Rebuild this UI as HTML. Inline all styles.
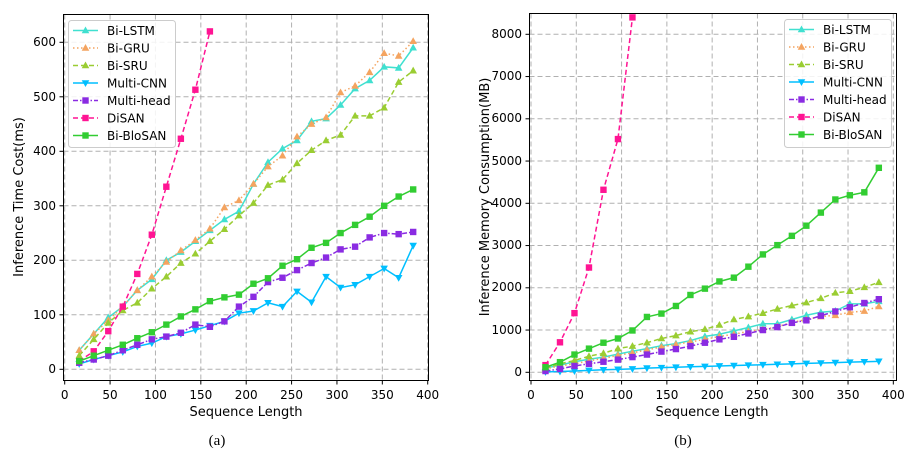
<!DOCTYPE html>
<html><head><meta charset="utf-8"><style>
body{margin:0;background:#fff;width:915px;height:453px;overflow:hidden}
svg{font-family:"DejaVu Sans","Liberation Sans",sans-serif}
</style></head><body>
<svg id="s" width="915" height="453" xmlns="http://www.w3.org/2000/svg">
<g id="grid"></g>
<g id="data"></g>
<rect x="63.5" y="14.5" width="365" height="366" fill="none" stroke="#000" stroke-width="1"/>
<rect x="529.5" y="13.5" width="367" height="367" fill="none" stroke="#000" stroke-width="1"/>
<g font-size="12" fill="#000" text-anchor="end">
<text x="56" y="373">0</text><text x="56" y="319">100</text><text x="56" y="264">200</text><text x="56" y="210">300</text><text x="56" y="155">400</text><text x="56" y="101">500</text><text x="56" y="46">600</text>
<text x="522" y="376">0</text><text x="522" y="334">1000</text><text x="522" y="291">2000</text><text x="522" y="249">3000</text><text x="522" y="207">4000</text><text x="522" y="165">5000</text><text x="522" y="122">6000</text><text x="522" y="80">7000</text><text x="522" y="38">8000</text>
</g>
<g font-size="12" fill="#000" text-anchor="middle">
<text x="64.7" y="399">0</text><text x="110" y="399">50</text><text x="155.4" y="399">100</text><text x="200.8" y="399">150</text><text x="246.2" y="399">200</text><text x="291.6" y="399">250</text><text x="337" y="399">300</text><text x="382.3" y="399">350</text><text x="427.7" y="399">400</text>
<text x="531" y="399">0</text><text x="576.3" y="399">50</text><text x="621.6" y="399">100</text><text x="666.9" y="399">150</text><text x="712.2" y="399">200</text><text x="757.4" y="399">250</text><text x="802.7" y="399">300</text><text x="848" y="399">350</text><text x="893.3" y="399">400</text>
</g>
<g font-size="13" fill="#000" text-anchor="middle">
<text x="246" y="416">Sequence Length</text>
<text x="712" y="416">Sequence Length</text>
<text transform="translate(23,197) rotate(-90)">Inference Time Cost(ms)</text>
<text transform="translate(489,197) rotate(-90)">Inference Memory Consumption(MB)</text>
</g>
<g font-size="15" fill="#000" text-anchor="middle" font-family="Liberation Serif,serif">
<text x="217" y="445">(a)</text><text x="683" y="445">(b)</text>
</g>
<rect x="68.5" y="20.5" width="107" height="127" rx="3" fill="#fff" fill-opacity="0.85" stroke="#ccc"/>
<rect x="784.5" y="19.5" width="107" height="128" rx="3" fill="#fff" fill-opacity="0.85" stroke="#ccc"/>
<g id="leg"></g>
<g font-size="12" fill="#000">
<text x="107" y="35">Bi-LSTM</text><text x="107" y="52.5">Bi-GRU</text><text x="107" y="70">Bi-SRU</text><text x="107" y="87.5">Multi-CNN</text><text x="107" y="105">Multi-head</text><text x="107" y="122.5">DiSAN</text><text x="107" y="140">Bi-BloSAN</text>
<text x="823" y="34">Bi-LSTM</text><text x="823" y="51.5">Bi-GRU</text><text x="823" y="69">Bi-SRU</text><text x="823" y="86.5">Multi-CNN</text><text x="823" y="104">Multi-head</text><text x="823" y="121.5">DiSAN</text><text x="823" y="139">Bi-BloSAN</text>
</g>
</svg>
<script>
var NS="http://www.w3.org/2000/svg";
function el(p,t,a){var e=document.createElementNS(NS,t);for(var k in a)e.setAttribute(k,a[k]);p.appendChild(e);return e;}
var G=document.getElementById("grid"),D=document.getElementById("data"),L=document.getElementById("leg");
var S=[
{c:"#40e0d0",d:"",m:"tri"},
{c:"#f4a460",d:"1.5,2.5",m:"tri"},
{c:"#9acd32",d:"5,3",m:"tri"},
{c:"#00bfff",d:"",m:"dtri"},
{c:"#8a2be2",d:"5,2,1.5,2",m:"sq"},
{c:"#ff1493",d:"5,3",m:"sq"},
{c:"#32cd32",d:"",m:"sq"}];
var A=[[35,65,95,115,145,165,200,215,235,255,275,290,340,380,405,420,455,460,485,515,530,555,553,590],
[35,65,90,115,145,170,197,218,237,258,297,310,340,372,392,427,450,462,508,520,545,580,575,602],
[25,55,85,108,122,148,170,195,212,235,257,282,305,338,348,378,402,420,430,465,465,480,527,548],
[10,18,25,32,42,48,60,65,72,80,88,103,107,122,115,143,123,170,150,155,170,185,168,227],
[12,18,25,35,45,55,60,67,82,78,88,115,133,160,168,182,195,205,220,225,242,250,248,252],
[15,33,70,115,175,247,335,423,513,620],
[15,25,35,45,57,68,82,97,110,125,132,137,157,167,190,202,223,232,250,265,280,300,317,330]];
var B=[[100,170,250,310,360,430,500,560,630,680,750,850,900,980,1060,1150,1150,1250,1350,1420,1450,1620,1620,1680],
[80,150,200,270,330,400,460,530,600,660,720,780,850,900,970,1010,1080,1180,1250,1320,1350,1420,1450,1560],
[100,200,280,380,450,560,620,700,800,870,960,1020,1120,1250,1320,1400,1500,1580,1650,1750,1880,1920,2010,2130],
[10,20,30,45,60,70,80,100,110,120,130,140,150,160,170,180,190,200,210,220,230,240,250,260],
[30,80,150,200,250,300,360,420,490,550,620,700,780,840,920,1000,1070,1170,1230,1340,1440,1540,1640,1730],
[170,710,1400,2480,4320,5520,8400],
[120,240,420,560,700,800,990,1310,1390,1570,1830,1980,2150,2240,2500,2790,3010,3230,3470,3780,4090,4190,4260,4840]];
function marker(p,m,x,y,c){
 if(m=="sq")el(p,"rect",{x:x-3.2,y:y-3.2,width:6.4,height:6.4,fill:c});
 else if(m=="tri")el(p,"polygon",{points:(x)+","+(y-4)+" "+(x-3.8)+","+(y+2.8)+" "+(x+3.8)+","+(y+2.8),fill:c});
 else el(p,"polygon",{points:(x)+","+(y+4)+" "+(x-3.8)+","+(y-2.8)+" "+(x+3.8)+","+(y-2.8),fill:c});
}
function plot(data,fx,fy,x0,x1,y0,y1,xt,yt){
 xt.forEach(function(v){var x=fx(v);el(G,"line",{x1:x,x2:x,y1:y0,y2:y1,stroke:"#b0b0b0","stroke-dasharray":"5,3","stroke-width":1});el(G,"line",{x1:x,x2:x,y1:y1,y2:y1+4,stroke:"#000"});});
 yt.forEach(function(v){var y=fy(v);el(G,"line",{x1:x0,x2:x1,y1:y,y2:y,stroke:"#b0b0b0","stroke-dasharray":"5,3","stroke-width":1});el(G,"line",{x1:x0-4,x2:x0,y1:y,y2:y,stroke:"#000"});});
 var cp=el(D,"clipPath",{id:"c"+x0});el(cp,"rect",{x:x0,y:y0,width:x1-x0,height:y1-y0});
 var g=el(D,"g",{"clip-path":"url(#c"+x0+")"});
 data.forEach(function(arr,i){var s=S[i];var pts=arr.map(function(v,j){return [fx(16*(j+1)),fy(v)];});
  el(g,"polyline",{points:pts.map(function(p){return p.join(",")}).join(" "),fill:"none",stroke:s.c,"stroke-width":1.5,"stroke-dasharray":s.d});
  pts.forEach(function(p){marker(g,s.m,p[0],p[1],s.c);});});
}
plot(A,function(v){return 64.7+v*0.9075},function(v){return 369.3-v*0.545},63.5,428.5,14.5,380.5,[0,50,100,150,200,250,300,350,400],[0,100,200,300,400,500,600]);
plot(B,function(v){return 531+v*0.9058},function(v){return 372.3-v*0.04225},529.5,896.5,13.5,380.5,[0,50,100,150,200,250,300,350,400],[0,1000,2000,3000,4000,5000,6000,7000,8000]);
[[73,30.5],[789,29.5]].forEach(function(o){for(var i=0;i<7;i++){var y=o[1]+i*17.5,s=S[i];el(L,"line",{x1:o[0],x2:o[0]+25,y1:y,y2:y,stroke:s.c,"stroke-width":1.5,"stroke-dasharray":s.d});marker(L,s.m,o[0]+12.5,y,s.c);}});
</script>
</body></html>
